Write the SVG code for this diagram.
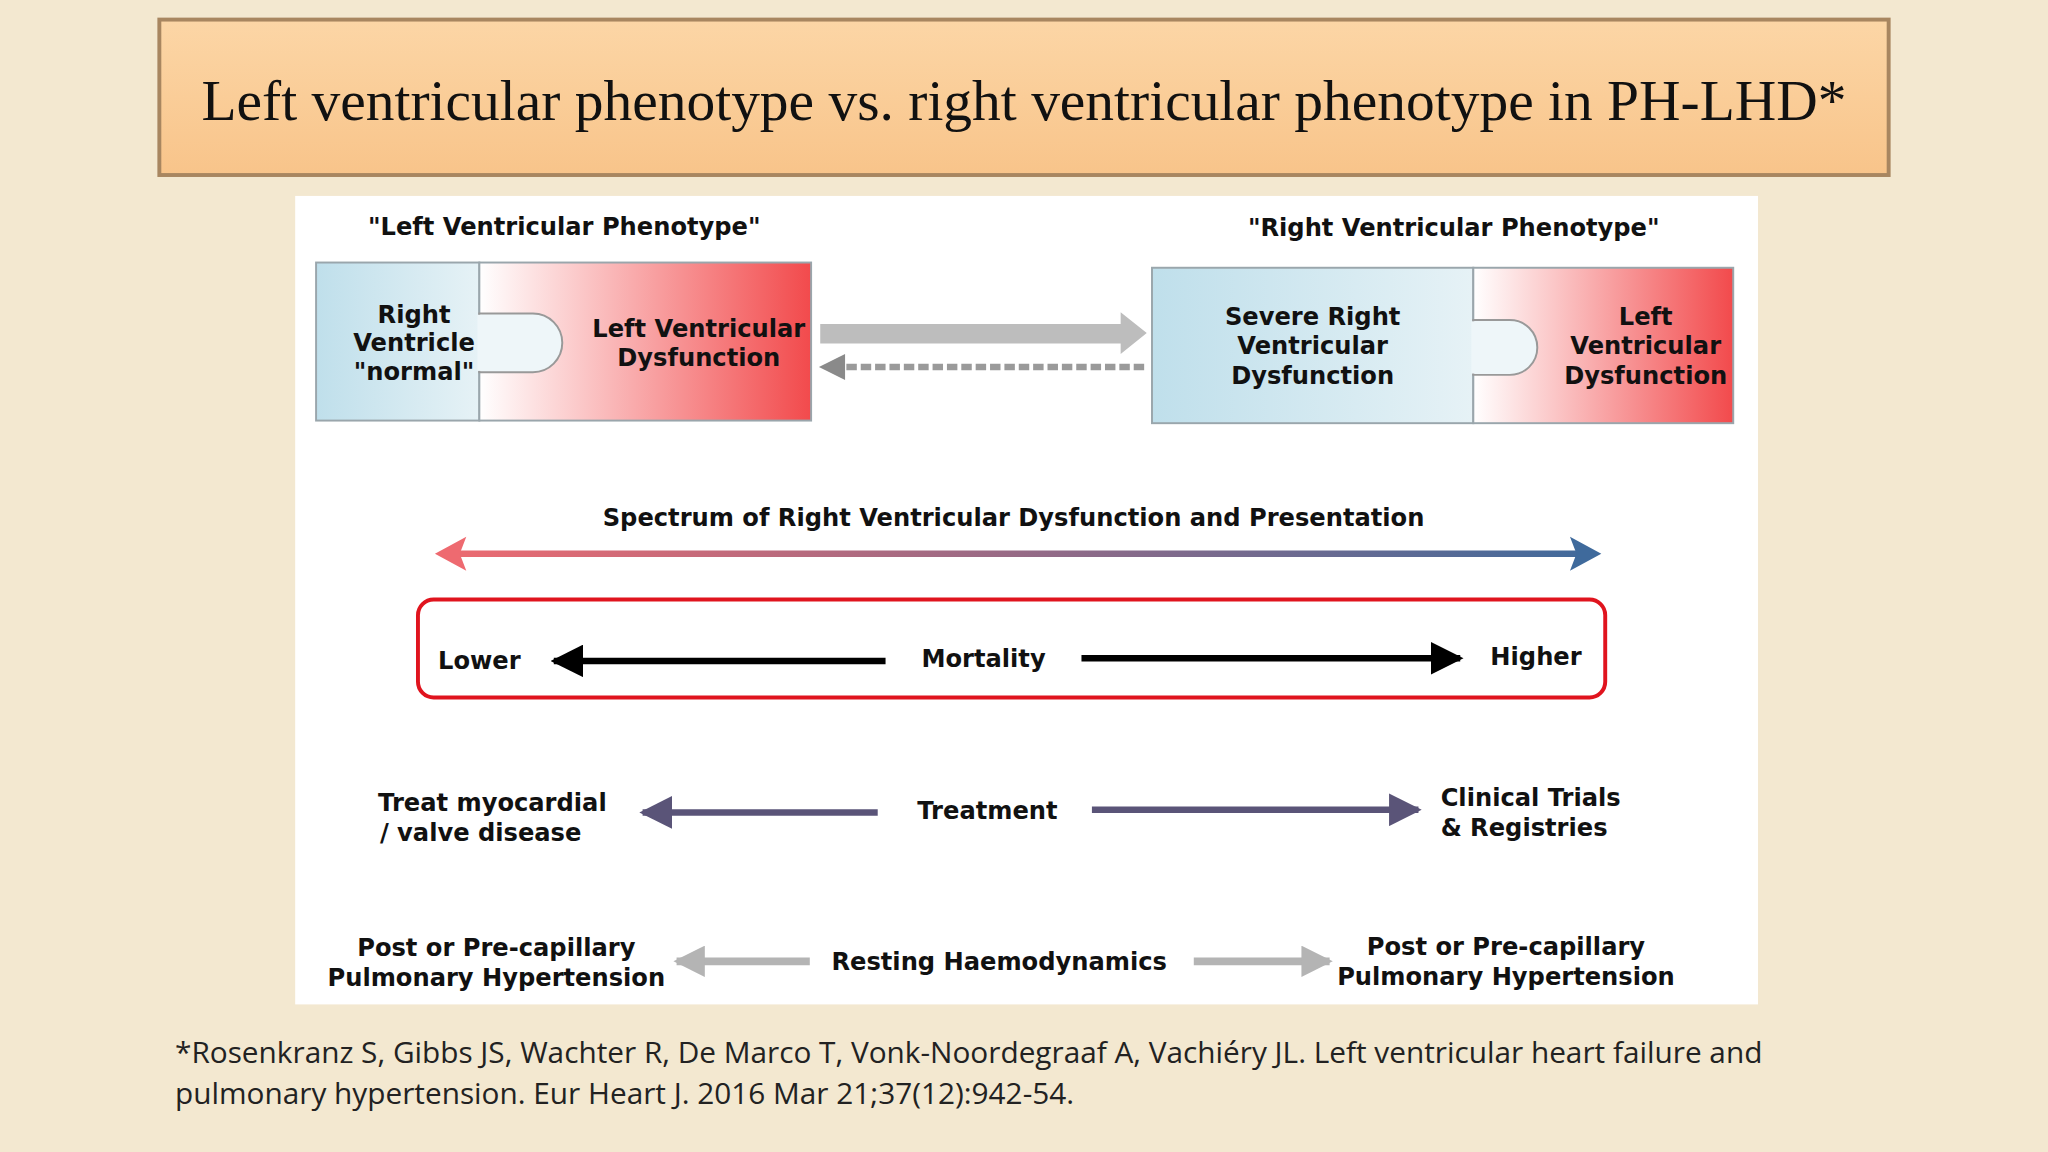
<svg xmlns="http://www.w3.org/2000/svg" width="2048" height="1152" viewBox="0 0 2048 1152">
<defs>
<linearGradient id="title" x1="0" y1="0" x2="0" y2="1"><stop offset="0" stop-color="#fcd6a6"/><stop offset="1" stop-color="#f8c48a"/></linearGradient>
<linearGradient id="blue" x1="0" y1="0" x2="1" y2="0"><stop offset="0" stop-color="#bfdfeb"/><stop offset="1" stop-color="#e6f2f6"/></linearGradient>
<linearGradient id="red" x1="0" y1="0" x2="1" y2="0"><stop offset="0" stop-color="#ffffff"/><stop offset="1" stop-color="#f24a4c"/></linearGradient>
<linearGradient id="spec" x1="333" y1="0" x2="1226" y2="0" gradientUnits="userSpaceOnUse"><stop offset="0" stop-color="#ee6a70"/><stop offset="1" stop-color="#3f6a9c"/></linearGradient>
<marker id="blk" viewBox="0 0 10 10" refX="9" refY="5" markerWidth="5" markerHeight="5" orient="auto-start-reverse"><path d="M0,0L10,5L0,10z" fill="#000"/></marker>
<marker id="pur" viewBox="0 0 10 10" refX="9" refY="5" markerWidth="5" markerHeight="5" orient="auto-start-reverse"><path d="M0,0L10,5L0,10z" fill="#5a5478"/></marker>
<marker id="gry" viewBox="0 0 10 10" refX="9" refY="5" markerWidth="4" markerHeight="4" orient="auto-start-reverse"><path d="M0,0L10,5L0,10z" fill="#b4b4b4"/></marker>
<style>
.t{font-family:"DejaVu Sans",Verdana,sans-serif;font-weight:bold;font-size:18.5px;fill:#111;text-anchor:middle}
.f{font-family:"Open Sans","Liberation Sans",sans-serif;font-size:22.8px;fill:#222}
.bx{stroke:#9aa6ac;stroke-width:1.5}
</style>
</defs>
<rect width="2048" height="1152" fill="#f3e8d0"/>
<g transform="scale(1.306122)">
<g id="title-box">
<rect x="122" y="15" width="1324" height="119" fill="url(#title)" stroke="#a88660" stroke-width="3"/>
<text x="784" y="92" text-anchor="middle" font-family="Liberation Serif,Times New Roman,serif" font-size="44" fill="#111">Left ventricular phenotype vs. right ventricular phenotype in PH-LHD*</text>
</g>
<rect x="226" y="150" width="1120" height="619" fill="#ffffff"/>
<g id="lv-phenotype">
<text class="t" x="432" y="180">"Left Ventricular Phenotype"</text>
<rect x="242" y="201" width="125" height="121" fill="url(#blue)" class="bx"/>
<rect x="367" y="201" width="254" height="121" fill="url(#red)" class="bx"/>
<path d="M367,240 H408 A22,22 0 0 1 408,285 H367 Z" fill="#eef6f9" stroke="#999" stroke-width="1.5"/>
<line x1="367" y1="241" x2="367" y2="284" stroke="#eef6f9" stroke-width="3"/>
<text class="t" x="317" y="247">Right</text><text class="t" x="317" y="269">Ventricle</text><text class="t" x="317" y="291">"normal"</text>
<text class="t" x="535" y="258">Left Ventricular</text><text class="t" x="535" y="280">Dysfunction</text>
</g>
<g id="rv-phenotype">
<text class="t" x="1113" y="181">"Right Ventricular Phenotype"</text>
<rect x="882" y="205" width="246" height="119" fill="url(#blue)" class="bx"/>
<rect x="1128" y="205" width="199" height="119" fill="url(#red)" class="bx"/>
<path d="M1128,245 H1156 A21,21 0 0 1 1156,287 H1128 Z" fill="#eef6f9" stroke="#999" stroke-width="1.5"/>
<line x1="1128" y1="246" x2="1128" y2="286" stroke="#eef6f9" stroke-width="3"/>
<text class="t" x="1005" y="249">Severe Right</text><text class="t" x="1005" y="271">Ventricular</text><text class="t" x="1005" y="294">Dysfunction</text>
<text class="t" x="1260" y="249">Left</text><text class="t" x="1260" y="271">Ventricular</text><text class="t" x="1260" y="294">Dysfunction</text>
</g>
<g id="connectors">
<path d="M628,248 H858 V239 L878,255 L858,271 V263 H628 Z" fill="#bdbdbd"/>
<line x1="876" y1="281" x2="645" y2="281" stroke="#9a9a9a" stroke-width="5" stroke-dasharray="8,3"/>
<path d="M627,281 L647,271 L647,291 Z" fill="#8a8a8a"/>
<line x1="345" y1="424" x2="1212" y2="424" stroke="url(#spec)" stroke-width="5"/>
<path d="M333,424 L357,411 L352,424 L357,437 Z" fill="#ee6a70"/>
<path d="M1226,424 L1202,411 L1207,424 L1202,437 Z" fill="#3f6a9c"/>
<line x1="678" y1="506" x2="424" y2="506" stroke="#000" stroke-width="5" marker-end="url(#blk)"/>
<line x1="828" y1="504" x2="1118" y2="504" stroke="#000" stroke-width="5" marker-end="url(#blk)"/>
<line x1="672" y1="622" x2="492" y2="622" stroke="#5a5478" stroke-width="5" marker-end="url(#pur)"/>
<line x1="836" y1="620" x2="1086" y2="620" stroke="#5a5478" stroke-width="5" marker-end="url(#pur)"/>
<line x1="620" y1="736" x2="518" y2="736" stroke="#b4b4b4" stroke-width="6" marker-end="url(#gry)"/>
<line x1="914" y1="736" x2="1018" y2="736" stroke="#b4b4b4" stroke-width="6" marker-end="url(#gry)"/>
</g>
<g id="spectrum"><text class="t" x="776" y="403">Spectrum of Right Ventricular Dysfunction and Presentation</text></g>
<g id="mortality">
<rect x="320" y="459" width="909" height="75" rx="12" fill="none" stroke="#e0141e" stroke-width="3"/>
<text class="t" x="367" y="512">Lower</text>
<text class="t" x="753" y="511">Mortality</text>
<text class="t" x="1176" y="509">Higher</text>
</g>
<g id="treatment">
<text class="t" x="377" y="621">Treat myocardial</text><text class="t" x="368" y="644">/ valve disease</text>
<text class="t" x="756" y="627">Treatment</text>
<text class="t" x="1103" y="617" style="text-anchor:start">Clinical Trials</text><text class="t" x="1103" y="640" style="text-anchor:start">&amp; Registries</text>
</g>
<g id="haemodynamics">
<text class="t" x="380" y="732">Post or Pre-capillary</text><text class="t" x="380" y="755">Pulmonary Hypertension</text>
<text class="t" x="765" y="743">Resting Haemodynamics</text>
<text class="t" x="1153" y="731">Post or Pre-capillary</text><text class="t" x="1153" y="754">Pulmonary Hypertension</text>
</g>
<g id="footnote">
<text class="f" x="134" y="814">*Rosenkranz S, Gibbs JS, Wachter R, De Marco T, Vonk-Noordegraaf A, Vachiéry JL. Left ventricular heart failure and</text>
<text class="f" x="134" y="845">pulmonary hypertension. Eur Heart J. 2016  Mar 21;37(12):942-54.</text>
</g>
</g>
</svg>
